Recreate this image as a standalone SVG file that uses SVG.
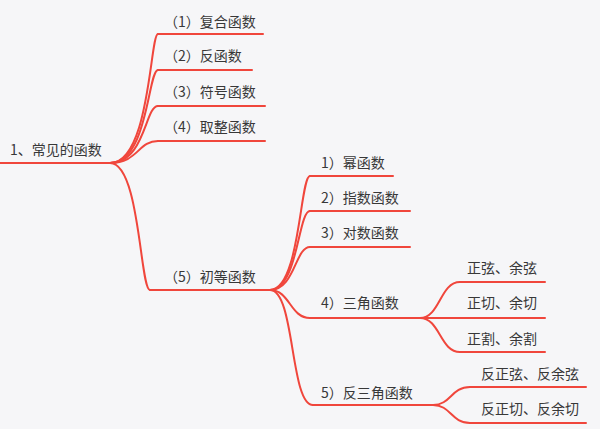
<svg xmlns="http://www.w3.org/2000/svg" width="600" height="429" viewBox="0 0 600 429">
<style>
.bg{fill:#f6f6f8}
.ln{fill:none;stroke:#f0463c;stroke-width:2;stroke-linecap:round}
text{font-family:"Noto Sans CJK SC","Noto Sans",sans-serif;font-size:14px;fill:#383838}
</style>
<rect class="bg" x="0" y="0" width="600" height="429"/>
<g id="connectors">
<path class="ln" d="M110,163 C150,163 150,34 158,34"/>
<path class="ln" d="M110,163 C148,163 148,70 158,70"/>
<path class="ln" d="M110,163 C145,163 145,106 158,106"/>
<path class="ln" d="M110,163 C138,163 138,141 158,141"/>
<path class="ln" d="M110,163 C140,163 140,290 150,290"/>
<path class="ln" d="M270,290 C300,290 300,176 310,176"/>
<path class="ln" d="M270,290 C298,290 298,211 310,211"/>
<path class="ln" d="M270,290 C295,290 295,247 310,247"/>
<path class="ln" d="M270,290 C290,290 290,318 310,318"/>
<path class="ln" d="M270,290 C295,290 290,405 313,405"/>
<path class="ln" d="M420,318 C440,318 440,282 460,282"/>
<path class="ln" d="M420,318 L460,318"/>
<path class="ln" d="M420,318 C440,318 440,352 460,352"/>
<path class="ln" d="M433,405 C451,405 451,387 470,387"/>
<path class="ln" d="M433,405 C451,405 451,423 470,423"/>
</g>
<g id="n-root"><line class="ln" x1="0" y1="163" x2="110" y2="163"/><text x="10" y="155">1、常见的函数</text></g>
<g id="n1"><line class="ln" x1="158" y1="34" x2="263" y2="34"/><text x="164" y="27">（1）复合函数</text></g>
<g id="n2"><line class="ln" x1="158" y1="70" x2="252" y2="70"/><text x="164" y="61">（2）反函数</text></g>
<g id="n3"><line class="ln" x1="158" y1="106" x2="265" y2="106"/><text x="164" y="97">（3）符号函数</text></g>
<g id="n4"><line class="ln" x1="158" y1="141" x2="265" y2="141"/><text x="164" y="132">（4）取整函数</text></g>
<g id="n5"><line class="ln" x1="150" y1="290" x2="270" y2="290"/><text x="164" y="282">（5）初等函数</text></g>
<g id="n5-1"><line class="ln" x1="310" y1="176" x2="393" y2="176"/><text x="321" y="168">1）幂函数</text></g>
<g id="n5-2"><line class="ln" x1="310" y1="211" x2="410" y2="211"/><text x="321" y="203">2）指数函数</text></g>
<g id="n5-3"><line class="ln" x1="310" y1="247" x2="410" y2="247"/><text x="321" y="238">3）对数函数</text></g>
<g id="n5-4"><line class="ln" x1="310" y1="318" x2="420" y2="318"/><text x="321" y="308">4）三角函数</text></g>
<g id="n5-5"><line class="ln" x1="313" y1="405" x2="433" y2="405"/><text x="321" y="398">5）反三角函数</text></g>
<g id="n-sin"><line class="ln" x1="460" y1="282" x2="545" y2="282"/><text x="467" y="273">正弦、余弦</text></g>
<g id="n-tan"><line class="ln" x1="460" y1="318" x2="545" y2="318"/><text x="467" y="308">正切、余切</text></g>
<g id="n-sec"><line class="ln" x1="460" y1="352" x2="545" y2="352"/><text x="467" y="344">正割、余割</text></g>
<g id="n-asin"><line class="ln" x1="470" y1="387" x2="586" y2="387"/><text x="481" y="379">反正弦、反余弦</text></g>
<g id="n-atan"><line class="ln" x1="470" y1="423" x2="586" y2="423"/><text x="481" y="414">反正切、反余切</text></g>
</svg>
